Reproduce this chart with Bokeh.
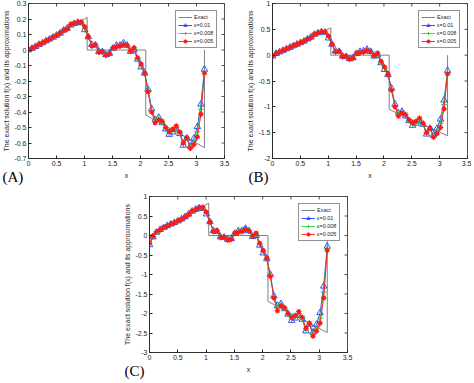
import math
from bokeh.plotting import figure
from bokeh.models import FixedTicker, Range1d, Spacer, Title
from bokeh.layouts import row, column
from bokeh.embed import file_html
from bokeh.resources import INLINE

# ---------------- data ----------------
x_pts = [0.000, 0.063, 0.126, 0.188, 0.251, 0.314, 0.377, 0.440, 0.503, 0.565,
         0.628, 0.691, 0.754, 0.817, 0.880, 0.942, 1.005, 1.068, 1.131, 1.194,
         1.257, 1.319, 1.382, 1.445, 1.508, 1.571, 1.634, 1.696, 1.759, 1.822,
         1.885, 1.948, 2.011, 2.073, 2.136, 2.199, 2.262, 2.325, 2.388, 2.450,
         2.513, 2.576, 2.639, 2.702, 2.765, 2.827, 2.890, 2.953, 3.016, 3.079,
         3.142]

exact_x = [0.0, 1.047, 1.047, 2.094, 2.094, 3.142, 3.142]
A_exact = [0.0, 0.21, 0.0, 0.0, -0.42, -0.63, 0.0]
B_exact = [0.0, 0.53, 0.0, 0.0, -1.05, -1.56, 0.0]
C_exact = [0.0, 0.83, 0.0, 0.0, -1.69, -2.49, 0.0]

A_eps010 = [0.000, 0.010, 0.022, 0.035, 0.046, 0.058, 0.070, 0.082, 0.095, 0.108,
            0.128, 0.140, 0.160, 0.170, 0.178, 0.175, 0.130, 0.085, 0.035, 0.030,
            -0.010, -0.012, -0.030, -0.022, 0.010, 0.030, 0.030, 0.045, 0.030, -0.010,
            0.000, -0.060, -0.110, -0.150, -0.255, -0.380, -0.450, -0.435, -0.470, -0.510,
            -0.545, -0.530, -0.510, -0.540, -0.615, -0.570, -0.620, -0.570, -0.495, -0.350,
            -0.125]
A_eps008 = [0.000, 0.011, 0.022, 0.034, 0.047, 0.057, 0.071, 0.081, 0.096, 0.107,
            0.126, 0.138, 0.162, 0.171, 0.179, 0.178, 0.140, 0.085, 0.030, 0.032,
            -0.012, -0.011, -0.032, -0.024, 0.012, 0.025, 0.027, 0.040, 0.030, -0.008,
            0.008, -0.055, -0.100, -0.150, -0.262, -0.390, -0.460, -0.442, -0.465, -0.505,
            -0.535, -0.520, -0.500, -0.535, -0.608, -0.568, -0.628, -0.590, -0.528, -0.382,
            -0.138]
A_eps005 = [0.000, 0.012, 0.021, 0.036, 0.045, 0.059, 0.069, 0.083, 0.094, 0.109,
            0.125, 0.135, 0.165, 0.172, 0.180, 0.180, 0.150, 0.085, 0.025, 0.035,
            -0.015, -0.010, -0.035, -0.025, 0.015, 0.020, 0.025, 0.035, 0.030, -0.005,
            0.015, -0.050, -0.090, -0.150, -0.270, -0.400, -0.470, -0.450, -0.460, -0.500,
            -0.525, -0.510, -0.490, -0.530, -0.600, -0.565, -0.635, -0.610, -0.560, -0.415,
            -0.150]

B_eps010 = [-0.02, 0.03, 0.06, 0.09, 0.12, 0.15, 0.18, 0.21, 0.24, 0.27,
            0.31, 0.35, 0.40, 0.43, 0.45, 0.44, 0.33, 0.21, 0.08, 0.07,
            -0.02, -0.03, -0.07, -0.05, 0.03, 0.07, 0.08, 0.11, 0.07, -0.02,
            0.00, -0.15, -0.28, -0.38, -0.64, -0.95, -1.12, -1.09, -1.18, -1.27,
            -1.36, -1.32, -1.27, -1.34, -1.53, -1.42, -1.55, -1.42, -1.24, -0.87,
            -0.30]
B_eps008 = [-0.02, 0.03, 0.06, 0.09, 0.12, 0.15, 0.18, 0.21, 0.24, 0.27,
            0.31, 0.34, 0.40, 0.43, 0.45, 0.45, 0.35, 0.21, 0.07, 0.08,
            -0.03, -0.03, -0.08, -0.06, 0.03, 0.06, 0.07, 0.10, 0.07, -0.02,
            0.02, -0.13, -0.25, -0.38, -0.66, -0.98, -1.15, -1.10, -1.16, -1.26,
            -1.33, -1.30, -1.24, -1.33, -1.51, -1.42, -1.57, -1.47, -1.32, -0.96,
            -0.33]
B_eps005 = [-0.02, 0.03, 0.06, 0.09, 0.12, 0.15, 0.18, 0.21, 0.24, 0.27,
            0.31, 0.34, 0.41, 0.43, 0.45, 0.45, 0.37, 0.21, 0.06, 0.08,
            -0.03, -0.02, -0.08, -0.06, 0.04, 0.05, 0.06, 0.09, 0.07, -0.01,
            0.04, -0.12, -0.23, -0.37, -0.68, -1.00, -1.18, -1.12, -1.15, -1.25,
            -1.31, -1.28, -1.22, -1.32, -1.50, -1.41, -1.59, -1.52, -1.40, -1.04,
            -0.36]

C_eps010 = [-0.24, -0.04, 0.08, 0.15, 0.20, 0.25, 0.29, 0.33, 0.37, 0.42,
            0.48, 0.55, 0.62, 0.67, 0.70, 0.69, 0.55, 0.35, 0.12, 0.10,
            -0.04, -0.05, -0.10, -0.08, 0.05, 0.12, 0.12, 0.18, 0.12, -0.03,
            0.00, -0.25, -0.45, -0.60, -1.00, -1.55, -1.80, -1.75, -1.88, -2.02,
            -2.18, -2.12, -2.04, -2.15, -2.45, -2.28, -2.48, -2.28, -1.98, -1.30,
            -0.28]
C_eps008 = [-0.22, -0.03, 0.09, 0.14, 0.21, 0.24, 0.30, 0.32, 0.38, 0.41,
            0.47, 0.54, 0.63, 0.66, 0.71, 0.71, 0.58, 0.35, 0.11, 0.12,
            -0.05, -0.04, -0.11, -0.09, 0.05, 0.10, 0.11, 0.17, 0.11, -0.02,
            0.03, -0.22, -0.41, -0.59, -1.02, -1.58, -1.86, -1.78, -1.86, -2.01,
            -2.14, -2.08, -2.00, -2.12, -2.42, -2.27, -2.53, -2.37, -2.12, -1.45,
            -0.33]
C_eps005 = [-0.20, -0.02, 0.10, 0.14, 0.21, 0.24, 0.30, 0.32, 0.38, 0.41,
            0.47, 0.53, 0.63, 0.66, 0.72, 0.72, 0.60, 0.35, 0.10, 0.13,
            -0.05, -0.04, -0.12, -0.10, 0.06, 0.08, 0.10, 0.16, 0.11, -0.01,
            0.06, -0.20, -0.38, -0.58, -1.05, -1.60, -1.93, -1.80, -1.85, -2.00,
            -2.10, -2.05, -1.95, -2.10, -2.38, -2.25, -2.58, -2.45, -2.25, -1.60,
            -0.38]

x_ticks = [0, 0.5, 1, 1.5, 2, 2.5, 3, 3.5]
x_tick_labels = ["0", "0.5", "1", "1.5", "2", "2.5", "3", "3.5"]
A_y_ticks = [-0.7, -0.6, -0.5, -0.4, -0.3, -0.2, -0.1, 0, 0.1, 0.2, 0.3]
A_y_tick_labels = ["-0.7", "-0.6", "-0.5", "-0.4", "-0.3", "-0.2", "-0.1", "0", "0.1", "0.2", "0.3"]
B_y_ticks = [-2, -1.5, -1, -0.5, 0, 0.5, 1]
B_y_tick_labels = ["-2", "-1.5", "-1", "-0.5", "0", "0.5", "1"]
C_y_ticks = [-3, -2.5, -2, -1.5, -1, -0.5, 0, 0.5, 1]
C_y_tick_labels = ["-3", "-2.5", "-2", "-1.5", "-1", "-0.5", "0", "0.5", "1"]

series_labels = ["Exact", "\u03b5=0.01", "\u03b5=0.008", "\u03b5=0.005"]
panel_tags = ["(A)", "(B)", "(C)"]

AXC = "#262626"
FONT = "Liberation Sans"


def make_panel(tag, yr, yt, ytl, ex, s1, s2, s3, fw, fh, mbl, mbr, mbt, mbb, tag_off):
    p = figure(frame_width=fw, frame_height=fh,
               x_range=Range1d(0, 3.5), y_range=Range1d(yr[0], yr[1]),
               output_backend="svg", toolbar_location=None,
               min_border_left=mbl, min_border_right=mbr,
               min_border_top=mbt, min_border_bottom=mbb)
    p.xgrid.visible = False
    p.ygrid.visible = False
    p.outline_line_color = AXC
    p.outline_line_width = 0.8
    p.background_fill_color = "white"
    p.border_fill_color = "white"

    for ax, ticks, labels, lab in ((p.xaxis[0], x_ticks, x_tick_labels, "x"),
                                   (p.yaxis[0], yt, ytl,
                                    "The exact solution f(x) and its approximations")):
        ax.ticker = FixedTicker(ticks=ticks)
        ax.major_label_overrides = dict(zip(ticks, labels))
        ax.axis_label = lab
        ax.axis_label_text_font = FONT
        ax.axis_label_text_font_size = "7px"
        ax.axis_label_text_font_style = "normal"
        ax.axis_label_text_color = AXC
        ax.axis_label_standoff = 1
        ax.major_label_text_font = FONT
        ax.major_label_text_font_size = "7px"
        ax.major_label_text_color = AXC
        ax.major_label_standoff = 2
        ax.major_tick_in = 3
        ax.major_tick_out = 0
        ax.minor_tick_in = 0
        ax.minor_tick_out = 0
        ax.axis_line_color = AXC
        ax.major_tick_line_color = AXC
        ax.axis_line_width = 0.8
    p.xaxis[0].axis_label_standoff = 3

    # inward ticks on the top and right edges of the box (half of each dash is clipped)
    p.scatter(x_ticks, [yr[1]] * len(x_ticks), marker="dash", angle=math.pi / 2,
              size=6, line_color=AXC, line_width=0.8)
    p.scatter([3.5] * len(yt), yt, marker="dash", size=6, line_color=AXC, line_width=0.8)

    p.line(exact_x, ex, line_color="#808080", line_width=1.0, legend_label=series_labels[0])

    p.line(x_pts, s1, line_color="#1f3fff", line_width=0.9, legend_label=series_labels[1])
    p.scatter(x_pts, s1, marker="triangle", size=6.5, line_color="#1f3fff",
              fill_alpha=0, line_width=0.9, legend_label=series_labels[1])

    p.line(x_pts, s2, line_color="#30d030", line_width=0.9, legend_label=series_labels[2])
    p.scatter(x_pts, s2, marker="cross", size=6, line_color="#30d030",
              line_width=1.0, legend_label=series_labels[2])

    p.line(x_pts, s3, line_color="#ff1a1a", line_width=0.9, legend_label=series_labels[3])
    p.scatter(x_pts, s3, marker="circle", size=3.5, line_color="#ff1a1a",
              fill_color="#ff1a1a", legend_label=series_labels[3])
    p.scatter(x_pts, s3, marker="asterisk", size=5.5, line_color="#ff1a1a",
              line_width=1.0, legend_label=series_labels[3])

    lg = p.legend[0]
    lg.location = "top_right"
    lg.margin = 7
    lg.padding = 2
    lg.spacing = 0
    lg.label_height = 7
    lg.glyph_height = 8
    lg.glyph_width = 14
    lg.label_standoff = 2
    lg.label_text_font = FONT
    lg.label_text_font_size = "5.5px"
    lg.label_text_color = AXC
    lg.border_line_color = AXC
    lg.border_line_width = 0.6
    lg.background_fill_alpha = 1.0

    p.add_layout(Title(text=tag, align="left", offset=tag_off, standoff=-26,
                       vertical_align="top",
                       text_font="Liberation Serif", text_font_size="15px",
                       text_font_style="normal", text_color="black"), "below")
    return p


pA = make_panel(panel_tags[0], (-0.7, 0.3), A_y_ticks, A_y_tick_labels,
                A_exact, A_eps010, A_eps008, A_eps005, 196, 155, 26, 20, 3, 32, -26)
pB = make_panel(panel_tags[1], (-2, 1), B_y_ticks, B_y_tick_labels,
                B_exact, B_eps010, B_eps008, B_eps005, 195, 155, 26, 4, 3, 32, -24)
pC = make_panel(panel_tags[2], (-3, 1), C_y_ticks, C_y_tick_labels,
                C_exact, C_eps010, C_eps008, C_eps005, 198, 156, 24, 10, 6, 29, -25)

layout = column(row(pA, pB), row(Spacer(width=121, height=10), pC))

open("out.html", "w").write(file_html(layout, INLINE))
